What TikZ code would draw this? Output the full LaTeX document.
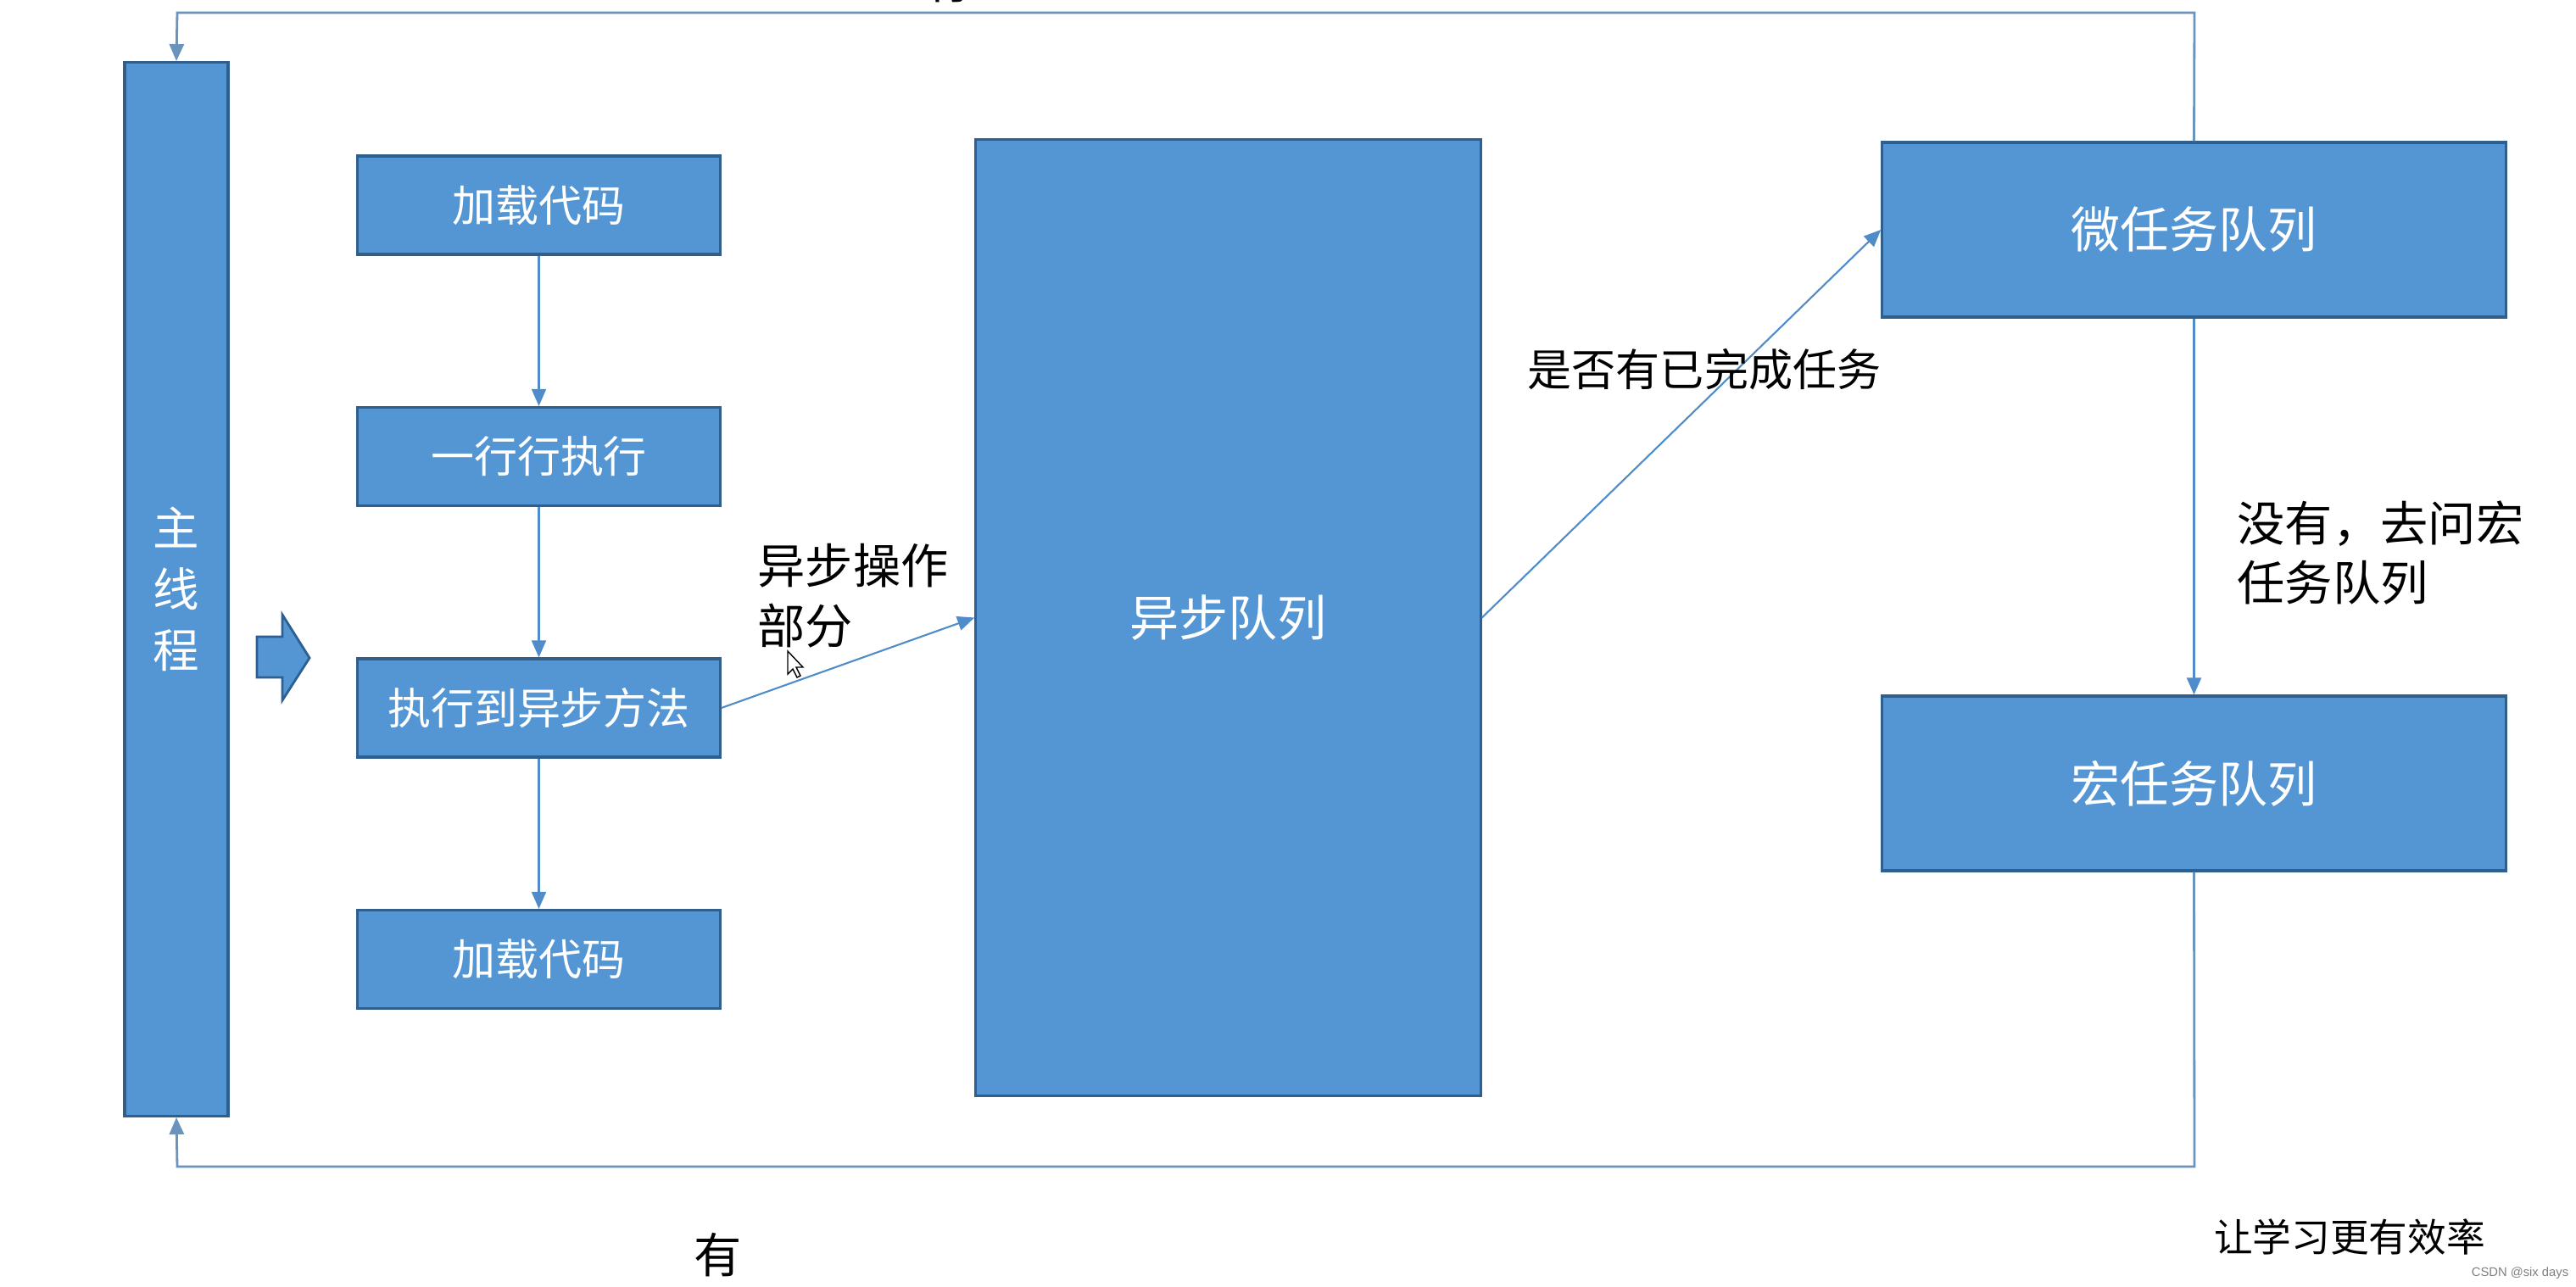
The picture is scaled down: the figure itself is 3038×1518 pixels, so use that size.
\documentclass[tikz,border=0pt]{standalone}
\usepackage{fontspec}
\setmainfont{Noto Sans CJK SC}
\newfontfamily\latinsans{Liberation Sans}
\usetikzlibrary{arrows.meta}
\definecolor{boxfill}{HTML}{5496D4}
\definecolor{boxline}{HTML}{2F5F8F}
\definecolor{connblue}{HTML}{4F8CC9}
\definecolor{loopline}{HTML}{6A94BE}
\begin{document}
\begin{tikzpicture}[x=0.01cm,y=-0.01cm,
  bluebox/.style={draw=boxline,line width=0.9pt,fill=boxfill,text=white,inner sep=0pt},
  leftbox/.style={bluebox,minimum width=4.27cm,minimum height=1.16cm,font=\fontsize{14.5pt}{17pt}\selectfont},
  rightbox/.style={bluebox,minimum width=7.35cm,minimum height=2.06cm,font=\fontsize{16.5pt}{19pt}\selectfont},
  link/.style={draw=connblue,line width=0.6pt,-{Triangle[length=0.2cm,width=0.17cm]}},
  looplink/.style={draw=loopline,line width=0.8pt,-{Triangle[length=0.2cm,width=0.17cm]}},
  lbl/.style={text=black,inner sep=0pt}]
\useasboundingbox (0,0) rectangle (3038,1518);
\fill[white] (0,0) rectangle (3038,1518);

% main thread bar
\node[bluebox,minimum width=1.22cm,minimum height=12.42cm,align=center,
  font=\fontsize{15.5pt}{20.5pt}\selectfont] (main) at (208,695) {主\\线\\程};

% block arrow
\filldraw[fill=boxfill,draw=boxline,line width=0.8pt]
  (303,751) -- (333,751) -- (333,725) -- (365,776) -- (333,826) -- (333,799) -- (303,799) -- cycle;

% left column
\node[leftbox] (b1) at (635.5,242) {加载代码};
\node[leftbox] (b2) at (635.5,538.5) {一行行执行};
\node[leftbox] (b3) at (635.5,835) {执行到异步方法};
\node[leftbox] (b4) at (635.5,1131.5) {加载代码};

% async queue
\node[bluebox,minimum width=5.95cm,minimum height=11.27cm,
  font=\fontsize{16.5pt}{19pt}\selectfont] (big) at (1448.5,728.5) {异步队列};

% right column
\node[rightbox] (micro) at (2587.5,271) {微任务队列};
\node[rightbox] (macro) at (2587.5,924) {宏任务队列};

% connectors
\draw[link] (b1.south) -- (b2.north);
\draw[link] (b2.south) -- (b3.north);
\draw[link] (b3.south) -- (b4.north);
\draw[link] (b3.east) -- (big.west);
\draw[link] (big.east) -- (micro.west);
\draw[link] (micro.south) -- (macro.north);

\coordinate (tr) at (2588,15);
\coordinate (tl) at (209,15);
\draw[looplink] (micro.north) -- (tr) -- (tl) -- (main.north);
\coordinate (br) at (2588,1376);
\coordinate (bl) at (209,1376);
\draw[looplink] (macro.south) -- (br) -- (bl) -- (main.south);

% labels
\node[lbl,anchor=west,align=left,font=\fontsize{16pt}{20.2pt}\selectfont] (lasync) at (893,703) {异步操作\\部分};
\node[lbl,font=\fontsize{14.8pt}{17pt}\selectfont] (ldone) at (2010,436) {是否有已完成任务};
\node[lbl,anchor=west,align=left,font=\fontsize{16pt}{19.9pt}\selectfont] (lno) at (2638,652) {没有，去问宏\\任务队列};
\node[lbl,font=\fontsize{16pt}{19pt}\selectfont] (lyes) at (847,1480) {有};
\node[lbl,font=\fontsize{16pt}{19pt}\selectfont] (lyestop) at (1118,-23) {有};
\node[lbl,font=\fontsize{13pt}{15pt}\selectfont] (lslogan) at (2771,1459) {让学习更有效率};
\node[lbl,text=gray,font=\latinsans\fontsize{4.2pt}{5pt}\selectfont] (lmark) at (2972,1502) {CSDN @six days};

% mouse cursor
\filldraw[fill=white,draw=black,line width=0.4pt]
  (929,768) -- (929,795) -- (935,789) -- (940,799) -- (944,797) -- (939,787) -- (947,787) -- cycle;
\end{tikzpicture}
\end{document}
